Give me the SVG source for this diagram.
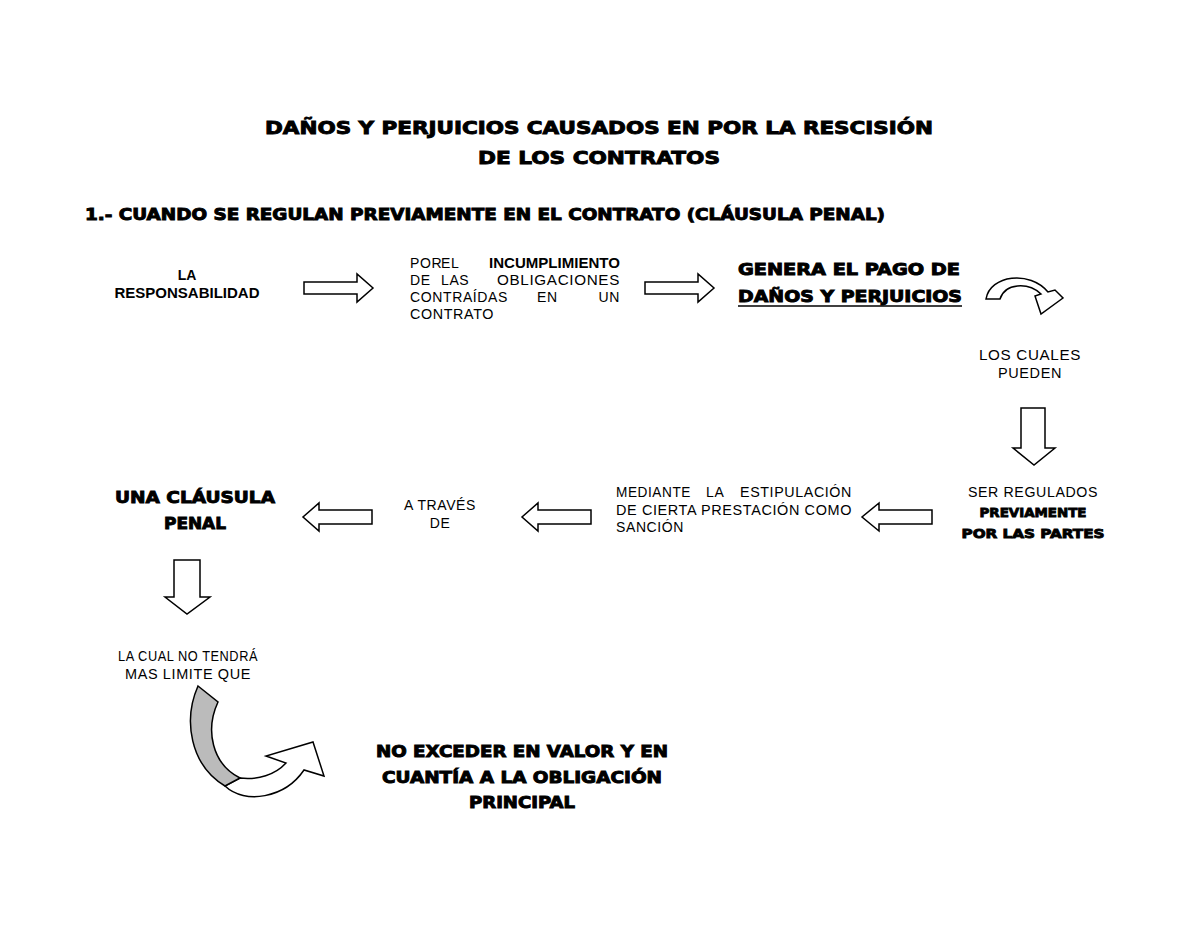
<svg xmlns="http://www.w3.org/2000/svg" width="1200" height="927" viewBox="0 0 1200 927">
<style>
.h{font-family:"DejaVu Sans",sans-serif;font-weight:bold;fill:#000;stroke:#000;stroke-width:0.9}
.b{font-family:"Liberation Sans",Arial,sans-serif;font-weight:bold;font-size:14px;fill:#000}
.t{font-family:"Liberation Sans",Arial,sans-serif;font-size:14px;letter-spacing:0.6px;fill:#000}
.a{fill:#fff;stroke:#000;stroke-width:1.5;stroke-linejoin:miter}
</style>
<rect width="1200" height="927" fill="#fff"/>
<g id="title" class="h" font-size="17" text-anchor="middle">
<text x="599" y="134" textLength="668" lengthAdjust="spacingAndGlyphs">DAÑOS Y PERJUICIOS CAUSADOS EN POR LA RESCISIÓN</text>
<text x="599" y="164" textLength="242" lengthAdjust="spacingAndGlyphs">DE LOS CONTRATOS</text>
</g>
<g id="heading"><text class="h" font-size="15" x="85" y="220" textLength="800" lengthAdjust="spacingAndGlyphs">1.- CUANDO SE REGULAN PREVIAMENTE EN EL CONTRATO (CLÁUSULA PENAL)</text></g>
<g id="n1" class="b" text-anchor="middle"><text x="187" y="280">LA</text><text x="187" y="298" textLength="145" lengthAdjust="spacingAndGlyphs">RESPONSABILIDAD</text></g>
<g id="n2">
<text class="t" x="410" y="268">POR</text><text class="t" x="441" y="268">EL</text><text class="b" x="489" y="268" textLength="131" lengthAdjust="spacingAndGlyphs">INCUMPLIMIENTO</text>
<text class="t" x="410" y="285">DE</text><text class="t" x="441" y="285">LAS</text><text class="t" x="497" y="285" textLength="123" lengthAdjust="spacingAndGlyphs">OBLIGACIONES</text>
<text class="t" x="410" y="302" textLength="98" lengthAdjust="spacingAndGlyphs">CONTRAÍDAS</text><text class="t" x="537" y="302">EN</text><text class="t" x="620" y="302" text-anchor="end">UN</text>
<text class="t" x="410" y="319" textLength="84" lengthAdjust="spacingAndGlyphs">CONTRATO</text>
</g>
<g id="n3" class="h" font-size="15">
<text x="738" y="275" textLength="222" lengthAdjust="spacingAndGlyphs">GENERA EL PAGO DE</text>
<text x="738" y="302" textLength="224" lengthAdjust="spacingAndGlyphs">DAÑOS Y PERJUICIOS</text>
<line x1="738" y1="306" x2="962" y2="306" stroke="#000" stroke-width="1.5"/>
</g>
<g id="n4" class="t" text-anchor="middle"><text x="1030" y="360" textLength="102" lengthAdjust="spacingAndGlyphs">LOS CUALES</text><text x="1030" y="378" textLength="64" lengthAdjust="spacingAndGlyphs">PUEDEN</text></g>
<g id="n5" text-anchor="middle"><text class="t" x="1033" y="497" textLength="130" lengthAdjust="spacingAndGlyphs">SER REGULADOS</text><text class="h" font-size="13" x="1033" y="517" textLength="107" lengthAdjust="spacingAndGlyphs">PREVIAMENTE</text><text class="h" font-size="13" x="1033" y="538" textLength="143" lengthAdjust="spacingAndGlyphs">POR LAS PARTES</text></g>
<g id="n6">
<text class="t" x="616" y="497" textLength="75" lengthAdjust="spacingAndGlyphs">MEDIANTE</text><text class="t" x="706" y="497">LA</text><text class="t" x="740" y="497" textLength="112" lengthAdjust="spacingAndGlyphs">ESTIPULACIÓN</text>
<text class="t" x="616" y="515" textLength="236" lengthAdjust="spacingAndGlyphs">DE CIERTA PRESTACIÓN COMO</text>
<text class="t" x="616" y="532" textLength="68" lengthAdjust="spacingAndGlyphs">SANCIÓN</text>
</g>
<g id="n7" class="t" text-anchor="middle"><text x="440" y="510" textLength="72" lengthAdjust="spacingAndGlyphs">A TRAVÉS</text><text x="440" y="528">DE</text></g>
<g id="n8" class="h" font-size="16" text-anchor="middle"><text x="195" y="503" textLength="160" lengthAdjust="spacingAndGlyphs">UNA CLÁUSULA</text><text x="195" y="529" textLength="62" lengthAdjust="spacingAndGlyphs">PENAL</text></g>
<g id="n9" class="t" text-anchor="middle"><text x="188" y="661" textLength="140" lengthAdjust="spacingAndGlyphs">LA CUAL NO TENDRÁ</text><text x="188" y="679" textLength="126" lengthAdjust="spacingAndGlyphs">MAS LIMITE QUE</text></g>
<g id="n10" class="h" font-size="15" text-anchor="middle">
<text x="522" y="757" textLength="292" lengthAdjust="spacingAndGlyphs">NO EXCEDER EN VALOR Y EN</text>
<text x="522" y="783" textLength="280" lengthAdjust="spacingAndGlyphs">CUANTÍA  A LA OBLIGACIÓN</text>
<text x="522" y="808" textLength="106" lengthAdjust="spacingAndGlyphs">PRINCIPAL</text>
</g>
<g id="connectors">
<path class="a" d="M304,282 H357 V274 L373,288 L357,302 V294 H304 Z"/>
<path class="a" d="M645,282 H698 V274 L714,288 L698,302 V294 H645 Z"/>
<path class="a" d="M986,299 C990,275 1030,270 1048,292 L1055,290 L1063,298 L1041,314 L1035,296 L1041,294 C1028,282 1005,283 1000,299 Z"/>
<path class="a" d="M1021,408 H1045 V448 H1055 L1034,465 L1013,448 H1021 Z"/>
<path class="a" d="M932,510 H879 V503 L862,517 L879,531 V524 H932 Z"/>
<path class="a" d="M591,510 H538 V503 L522,517 L538,531 V524 H591 Z"/>
<path class="a" d="M372,510 H319 V503 L303,517 L319,531 V524 H372 Z"/>
<path class="a" d="M174,560 H200 V597 H210 L187,614 L165,597 H174 Z"/>
<path class="a" d="M225,786 C245,805 285,798 304,770 L324,776 L313,742 L266,756 L286,763 C275,775 258,780 240,778 Z"/>
<path d="M198,686 L218,702 C205,730 212,764 240,778 L225,786 C190,765 183,720 198,686 Z" fill="#bbb" stroke="#000" stroke-width="1.5"/>
</g>
</svg>
